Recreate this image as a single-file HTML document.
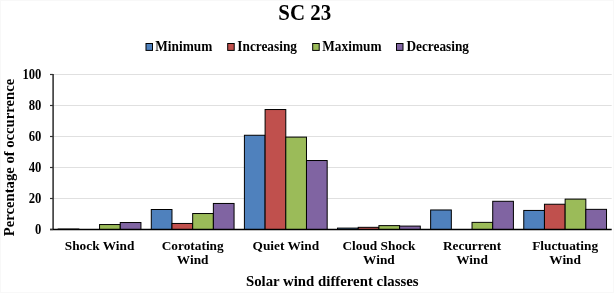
<!DOCTYPE html><html><head><meta charset="utf-8"><style>html,body{margin:0;padding:0;background:#fff;}svg{display:block}text{font-family:'Liberation Serif','Times New Roman',serif;font-weight:bold;fill:#000}</style></head><body>
<svg width="614" height="293" viewBox="0 0 614 293">
<rect x="0" y="0" width="614" height="293" fill="#fff"/>
<rect x="0.5" y="0.5" width="613" height="292" fill="none" stroke="#F8F8F8" stroke-width="1"/>
<line x1="53" y1="198.5" x2="611.7" y2="198.5" stroke="#E0E0E0" stroke-width="1"/>
<line x1="53" y1="167.5" x2="611.7" y2="167.5" stroke="#E0E0E0" stroke-width="1"/>
<line x1="53" y1="136.5" x2="611.7" y2="136.5" stroke="#E0E0E0" stroke-width="1"/>
<line x1="53" y1="105.5" x2="611.7" y2="105.5" stroke="#E0E0E0" stroke-width="1"/>
<line x1="53" y1="74.5" x2="611.7" y2="74.5" stroke="#E0E0E0" stroke-width="1"/>
<rect x="58.17" y="229.03" width="20.69" height="0.46" fill="#4F81BD" stroke="#000" stroke-width="1"/>
<rect x="99.56" y="224.54" width="20.69" height="4.96" fill="#9BBB59" stroke="#000" stroke-width="1"/>
<rect x="120.25" y="222.53" width="20.69" height="6.98" fill="#8064A2" stroke="#000" stroke-width="1"/>
<rect x="151.29" y="209.50" width="20.69" height="20.00" fill="#4F81BD" stroke="#000" stroke-width="1"/>
<rect x="171.98" y="223.46" width="20.69" height="6.04" fill="#C0504D" stroke="#000" stroke-width="1"/>
<rect x="192.68" y="213.53" width="20.69" height="15.97" fill="#9BBB59" stroke="#000" stroke-width="1"/>
<rect x="213.37" y="203.46" width="20.69" height="26.04" fill="#8064A2" stroke="#000" stroke-width="1"/>
<rect x="244.41" y="135.26" width="20.69" height="94.24" fill="#4F81BD" stroke="#000" stroke-width="1"/>
<rect x="265.10" y="109.53" width="20.69" height="119.97" fill="#C0504D" stroke="#000" stroke-width="1"/>
<rect x="285.79" y="137.12" width="20.69" height="92.38" fill="#9BBB59" stroke="#000" stroke-width="1"/>
<rect x="306.48" y="160.52" width="20.69" height="68.98" fill="#8064A2" stroke="#000" stroke-width="1"/>
<rect x="337.52" y="228.10" width="20.69" height="1.40" fill="#4F81BD" stroke="#000" stroke-width="1"/>
<rect x="358.22" y="227.33" width="20.69" height="2.17" fill="#C0504D" stroke="#000" stroke-width="1"/>
<rect x="378.91" y="225.62" width="20.69" height="3.88" fill="#9BBB59" stroke="#000" stroke-width="1"/>
<rect x="399.60" y="226.09" width="20.69" height="3.41" fill="#8064A2" stroke="#000" stroke-width="1"/>
<rect x="430.64" y="209.97" width="20.69" height="19.53" fill="#4F81BD" stroke="#000" stroke-width="1"/>
<rect x="472.03" y="222.37" width="20.69" height="7.13" fill="#9BBB59" stroke="#000" stroke-width="1"/>
<rect x="492.72" y="201.29" width="20.69" height="28.21" fill="#8064A2" stroke="#000" stroke-width="1"/>
<rect x="523.76" y="210.44" width="20.69" height="19.07" fill="#4F81BD" stroke="#000" stroke-width="1"/>
<rect x="544.45" y="204.24" width="20.69" height="25.27" fill="#C0504D" stroke="#000" stroke-width="1"/>
<rect x="565.14" y="199.12" width="20.69" height="30.38" fill="#9BBB59" stroke="#000" stroke-width="1"/>
<rect x="585.83" y="209.35" width="20.69" height="20.15" fill="#8064A2" stroke="#000" stroke-width="1"/>
<line x1="53.1" y1="74.0" x2="53.1" y2="230.0" stroke="#2a2a2a" stroke-width="1.5"/>
<line x1="50" y1="229.5" x2="611.7" y2="229.5" stroke="#000" stroke-width="1.5"/>
<line x1="50" y1="229.5" x2="53" y2="229.5" stroke="#333" stroke-width="1.2"/>
<text transform="translate(41.40,233.80) scale(0.95,1.05)" text-anchor="end" font-size="13.33">0</text>
<line x1="50" y1="198.5" x2="53" y2="198.5" stroke="#333" stroke-width="1.2"/>
<text transform="translate(41.40,202.80) scale(0.95,1.05)" text-anchor="end" font-size="13.33">20</text>
<line x1="50" y1="167.5" x2="53" y2="167.5" stroke="#333" stroke-width="1.2"/>
<text transform="translate(41.40,171.80) scale(0.95,1.05)" text-anchor="end" font-size="13.33">40</text>
<line x1="50" y1="136.5" x2="53" y2="136.5" stroke="#333" stroke-width="1.2"/>
<text transform="translate(41.40,140.80) scale(0.95,1.05)" text-anchor="end" font-size="13.33">60</text>
<line x1="50" y1="105.5" x2="53" y2="105.5" stroke="#333" stroke-width="1.2"/>
<text transform="translate(41.40,109.80) scale(0.95,1.05)" text-anchor="end" font-size="13.33">80</text>
<line x1="50" y1="74.5" x2="53" y2="74.5" stroke="#333" stroke-width="1.2"/>
<text transform="translate(41.40,78.80) scale(0.95,1.05)" text-anchor="end" font-size="13.33">100</text>
<text transform="translate(99.56,249.60)" text-anchor="middle" font-size="13.33">Shock Wind</text>
<text transform="translate(192.68,249.60)" text-anchor="middle" font-size="13.33">Corotating</text>
<text transform="translate(192.68,264.40)" text-anchor="middle" font-size="13.33">Wind</text>
<text transform="translate(285.79,249.60)" text-anchor="middle" font-size="13.33">Quiet Wind</text>
<text transform="translate(378.91,249.60)" text-anchor="middle" font-size="13.33">Cloud Shock</text>
<text transform="translate(378.91,264.40)" text-anchor="middle" font-size="13.33">Wind</text>
<text transform="translate(472.03,249.60)" text-anchor="middle" font-size="13.33">Recurrent</text>
<text transform="translate(472.03,264.40)" text-anchor="middle" font-size="13.33">Wind</text>
<text transform="translate(565.14,249.60)" text-anchor="middle" font-size="13.33">Fluctuating</text>
<text transform="translate(565.14,264.40)" text-anchor="middle" font-size="13.33">Wind</text>
<text transform="translate(304.70,20.40) scale(0.98,1.05)" text-anchor="middle" font-size="21.33">SC 23</text>
<rect x="146.0" y="43.5" width="6.5" height="6.9" fill="#4F81BD" stroke="#000" stroke-width="1"/>
<text transform="translate(155.30,50.60) scale(1.0,1.03)" font-size="13.33">Minimum</text>
<rect x="227.7" y="43.5" width="6.5" height="6.9" fill="#C0504D" stroke="#000" stroke-width="1"/>
<text transform="translate(237.30,50.60) scale(1.0,1.03)" font-size="13.33">Increasing</text>
<rect x="312.7" y="43.5" width="6.5" height="6.9" fill="#9BBB59" stroke="#000" stroke-width="1"/>
<text transform="translate(322.30,50.60) scale(1.0,1.03)" font-size="13.33">Maximum</text>
<rect x="396.5" y="43.5" width="6.5" height="6.9" fill="#8064A2" stroke="#000" stroke-width="1"/>
<text transform="translate(406.40,50.60) scale(1.0,1.03)" font-size="13.33">Decreasing</text>
<text transform="translate(332.20,285.80) scale(1.01,1.03)" text-anchor="middle" font-size="14.67">Solar wind different classes</text>
<text transform="translate(14.10,157.50) rotate(-90)" text-anchor="middle" font-size="14.67">Percentage of occurrence</text>
</svg></body></html>
